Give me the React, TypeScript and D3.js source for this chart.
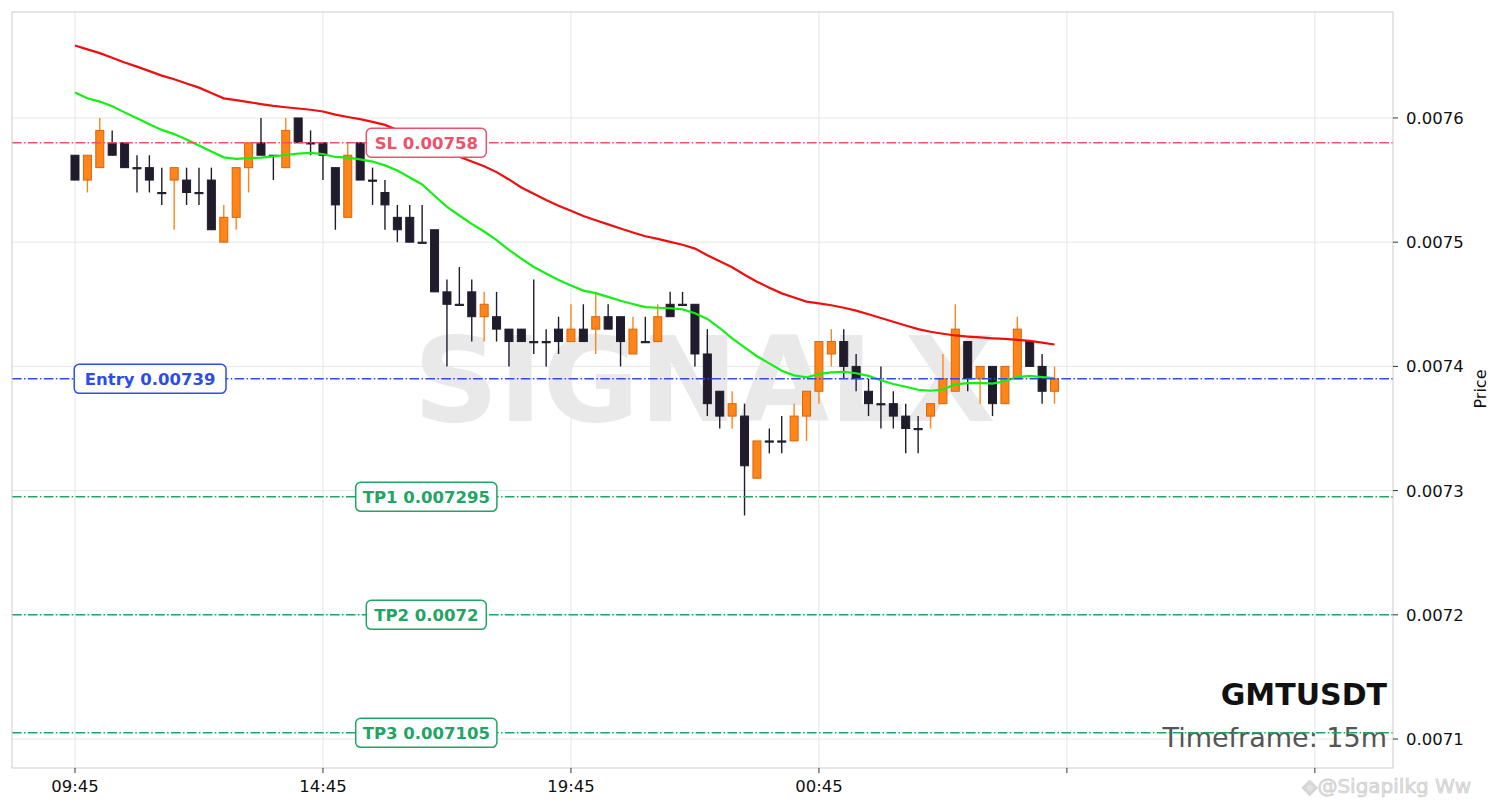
import * as d3 from "d3";

// prices in units of 0.00001
const opens = [757, 755, 756, 758, 758, 756, 756, 754, 755, 755, 754, 755, 750, 752, 756, 758, 757, 756, 760, 758, 758, 756, 752, 758, 755, 754, 752, 752, 750, 751, 746, 745, 746, 744, 744, 743, 743, 742, 742, 743, 742, 743, 743, 744, 744, 741, 742, 742, 745, 745, 745, 741, 738, 736, 736, 731, 734, 734, 734, 736, 738, 741, 742, 740, 738, 737, 737, 736, 735, 736, 737, 738, 742, 739, 740, 737, 739, 742, 740, 738];
const highs = [757, 757, 760, 759, 758, 757, 757, 756, 756, 756, 756, 756, 753, 756, 758, 760, 757, 760, 760, 759, 758, 756, 758, 758, 756, 755, 753, 753, 753, 751, 747, 748, 747, 746, 746, 743, 743, 747, 743, 744, 745, 745, 746, 745, 744, 744, 744, 745, 746, 746, 745, 743, 738, 738, 737, 734, 735, 736, 737, 738, 742, 743, 743, 741, 739, 740, 738, 737, 736, 737, 741, 745, 742, 740, 740, 740, 744, 742, 741, 740];
const lows = [755, 754, 756, 757, 756, 754, 754, 753, 751, 753, 753, 751, 750, 751, 754, 757, 755, 756, 758, 757, 755, 751, 752, 755, 753, 751, 750, 750, 750, 746, 740, 745, 742, 742, 742, 740, 742, 741, 740, 741, 742, 742, 741, 743, 740, 741, 742, 742, 744, 745, 740, 736, 735, 735, 728, 731, 733, 733, 734, 734, 737, 740, 739, 738, 736, 735, 735, 733, 733, 735, 737, 738, 738, 737, 736, 737, 739, 740, 737, 737];
const closes = [755, 757, 759, 757, 756, 756, 755, 754, 756, 754, 754, 751, 752, 756, 758, 757, 757, 759, 758, 758, 757, 753, 757, 755, 755, 753, 751, 750, 750, 746, 745, 745, 744, 745, 743, 742, 742, 742, 742, 742, 743, 742, 744, 743, 742, 743, 742, 744, 744, 745, 741, 737, 736, 737, 732, 734, 734, 734, 736, 738, 742, 742, 740, 739, 737, 737, 736, 735, 735, 737, 739, 743, 739, 740, 737, 740, 743, 740, 738, 739];

const emaSlow = [765.83, 765.52, 765.22, 764.85, 764.47, 764.13, 763.77, 763.41, 763.12, 762.78, 762.44, 762.01, 761.58, 761.43, 761.28, 761.12, 760.97, 760.86, 760.76, 760.66, 760.52, 760.27, 760.08, 759.9, 759.69, 759.44, 759.03, 758.6, 758.16, 757.74, 757.31, 756.88, 756.5, 756.12, 755.64, 755.05, 754.4, 753.9, 753.4, 752.94, 752.53, 752.11, 751.76, 751.43, 751.1, 750.78, 750.48, 750.26, 750.03, 749.79, 749.48, 748.95, 748.46, 747.98, 747.38, 746.82, 746.34, 745.88, 745.54, 745.22, 745.07, 744.92, 744.72, 744.49, 744.2, 743.9, 743.6, 743.29, 743.0, 742.79, 742.63, 742.49, 742.4, 742.33, 742.26, 742.21, 742.13, 742.05, 741.92, 741.76];
const emaFast = [762.05, 761.58, 761.32, 760.94, 760.45, 759.97, 759.5, 759.04, 758.7, 758.26, 757.79, 757.3, 756.83, 756.7, 756.76, 756.81, 756.9, 757.02, 757.13, 757.19, 757.1, 756.86, 756.8, 756.67, 756.49, 756.18, 755.77, 755.21, 754.65, 753.74, 752.84, 752.15, 751.47, 750.86, 750.17, 749.38, 748.67, 748.0, 747.48, 746.96, 746.52, 746.1, 745.9, 745.6, 745.28, 745.02, 744.77, 744.72, 744.68, 744.59, 744.28, 743.82, 743.09, 742.26, 741.54, 740.82, 740.24, 739.65, 739.28, 739.11, 739.4, 739.52, 739.57, 739.45, 739.24, 738.89, 738.58, 738.36, 738.12, 738.04, 738.14, 738.56, 738.65, 738.67, 738.61, 738.82, 739.13, 739.23, 739.14, 739.06];

const tickIndex = [0, 20, 40, 60, 80, 100];
const tickLabels = ["09:45", "14:45", "19:45", "00:45", "", ""];
const priceTicks = [0.0071, 0.0072, 0.0073, 0.0074, 0.0075, 0.0076];

const levels = [
  { label: "SL 0.00758", price: 0.00758, color: "#f0506a", at: 0.3 },
  { label: "Entry 0.00739", price: 0.00739, color: "#2b4de8", at: 0.1 },
  { label: "TP1 0.007295", price: 0.007295, color: "#21a464", at: 0.3 },
  { label: "TP2 0.0072", price: 0.0072, color: "#21a464", at: 0.3 },
  { label: "TP3 0.007105", price: 0.007105, color: "#21a464", at: 0.3 },
];

const P = (v: number) => v * 1e-5;
const FONT = "DejaVu Sans, sans-serif";

export default function App() {
  const W = 1501;
  const H = 808;
  const left = 12, right = 1393, top = 12, bottom = 768;

  const x = d3.scaleLinear().domain([-5.08, 106.3]).range([left, right]);
  const y = d3.scaleLinear().domain([0.0070767, 0.0076853]).range([bottom, top]);
  const bw = 8;

  const line = d3
    .line<number>()
    .x((_, i) => x(i))
    .y((d) => y(P(d)))
    .curve(d3.curveLinear);

  const dark = "#201c2c";
  const orange = "#ff8519";
  const orangeEdge = "#d9650c";

  const boxW = (s: string) => s.length * 10.6 + 14;

  return (
    <svg
      width={W}
      height={H}
      style={{ position: "absolute", left: 0, top: 0, background: "#fff" }}
      fontFamily={FONT}
    >
      <rect x={0} y={0} width={W} height={H} fill="#fff" />
      {/* grid */}
      {priceTicks.map((p) => (
        <line key={p} x1={left} x2={right} y1={y(p)} y2={y(p)} stroke="#e6e6e6" strokeWidth={1} />
      ))}
      {tickIndex.map((t) => (
        <line key={t} x1={x(t)} x2={x(t)} y1={top} y2={bottom} stroke="#e6e6e6" strokeWidth={1} />
      ))}

      {/* watermark */}
      <text
        x={(left + right) / 2 + 2}
        y={421}
        textAnchor="middle"
        fontSize={118}
        fontWeight="bold"
        fill="#e9e9e9"
      >
        SIGNALX
      </text>

      {/* candles */}
      {opens.map((o, i) => {
        const c = closes[i];
        const up = c > o;
        const cx = x(i);
        const yTop = y(P(Math.max(o, c)));
        const yBot = y(P(Math.min(o, c)));
        const h = Math.max(yBot - yTop, 1.2);
        return (
          <g key={i}>
            <line
              x1={cx}
              x2={cx}
              y1={y(P(highs[i]))}
              y2={y(P(lows[i]))}
              stroke={up ? orange : dark}
              strokeWidth={1.4}
            />
            <rect
              x={cx - bw / 2}
              y={yTop}
              width={bw}
              height={h}
              fill={up ? orange : dark}
              stroke={up ? orangeEdge : dark}
              strokeWidth={1}
            />
          </g>
        );
      })}

      {/* EMAs */}
      <path d={line(emaSlow) ?? ""} fill="none" stroke="#ee0f0f" strokeWidth={2.2} />
      <path d={line(emaFast) ?? ""} fill="none" stroke="#14f014" strokeWidth={2.2} />

      {/* symbol text */}
      <text x={1387} y={705} textAnchor="end" fontSize={30} fontWeight="bold" fill="#111">
        GMTUSDT
      </text>
      <text x={1387} y={747} textAnchor="end" fontSize={27} fill="#555">
        Timeframe: 15m
      </text>

      {/* levels */}
      {levels.map((l) => (
        <line
          key={l.label}
          x1={left}
          x2={right}
          y1={y(l.price)}
          y2={y(l.price)}
          stroke={l.color}
          strokeWidth={1.5}
          strokeDasharray="9.6 2.4 1.5 2.4"
        />
      ))}
      {levels.map((l) => {
        const cx = left + (right - left) * l.at;
        const w = boxW(l.label);
        const cy = y(l.price);
        return (
          <g key={l.label + "b"}>
            <rect
              x={cx - w / 2}
              y={cy - 14.5}
              width={w}
              height={29}
              rx={5}
              fill="#fff"
              stroke={l.color}
              strokeWidth={1.5}
            />
            <text
              x={cx}
              y={cy + 6}
              textAnchor="middle"
              fontSize={16.5}
              fontWeight="bold"
              fill={l.color}
            >
              {l.label}
            </text>
          </g>
        );
      })}

      {/* frame */}
      <rect x={left} y={top} width={right - left} height={bottom - top} fill="none" stroke="#cccccc" strokeWidth={1} />

      {/* y axis (right) */}
      {priceTicks.map((p) => (
        <g key={"yt" + p}>
          <line x1={right} x2={right + 5} y1={y(p)} y2={y(p)} stroke="#333" strokeWidth={1} />
          <text x={right + 13} y={y(p) + 6} fontSize={16.5} fill="#111">
            {d3.format(".4f")(p)}
          </text>
        </g>
      ))}
      <text
        transform={`translate(1486, 389) rotate(-90)`}
        textAnchor="middle"
        fontSize={16}
        fill="#111"
      >
        Price
      </text>

      {/* x axis */}
      {tickIndex.map((t, i) => (
        <g key={"xt" + t}>
          <line x1={x(t)} x2={x(t)} y1={bottom} y2={bottom + 5} stroke="#333" strokeWidth={1} />
          <text x={x(t)} y={bottom + 24} textAnchor="middle" fontSize={16.5} fill="#111">
            {tickLabels[i]}
          </text>
        </g>
      ))}

      {/* corner mark */}
      <text x={1302} y={793} fontSize={20} fill="#e4e4e4" stroke="#c8c8c8" strokeWidth={0.6}>
        ◈@Sigapilkg Ww
      </text>
    </svg>
  );
}
